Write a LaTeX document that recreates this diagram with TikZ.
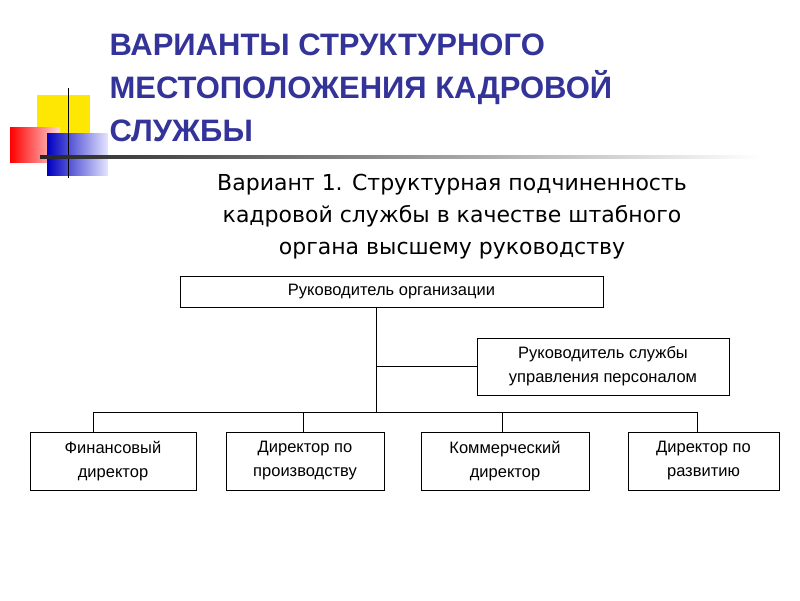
\documentclass[tikz,border=0pt]{standalone}
\usepackage{fontspec}
\setmainfont{Liberation Sans}
\newfontfamily\subfont{DejaVu Sans}
\usetikzlibrary{positioning}
\definecolor{titleblue}{RGB}{51,51,153}
\tikzset{
	every node/.style = {font=\fontsize{16.5}{24}\selectfont},
	unit/.style = {draw, thick, minimum height=58pt, align=center, inner sep=2pt},
	link/.style = {-, thick, black}
}
\begin{document}
\begin{tikzpicture}[x=1pt,y=-1pt]
		\useasboundingbox (0,0) rectangle (800,600);
		% logo
		\fill[yellow!90!orange] (37,95) rectangle (90,140);
		\shade[left color=red, right color=red!15] (10,127) rectangle (60,162);
		\shade[left color=blue!75!black, right color=blue!10] (47,133) rectangle (108,175);
		\draw[thick] (68,88) -- (68,178);
		\shade[left color=black!85, right color=white] (40,155.5) rectangle (760,158.5);
		% title
		\node[anchor=west, text=titleblue, align=left, font=\bfseries\fontsize{31}{43}\selectfont] (title) at (106,88)
			{ВАРИАНТЫ СТРУКТУРНОГО\\МЕСТОПОЛОЖЕНИЯ КАДРОВОЙ\\СЛУЖБЫ};
		\node[align=center, font=\subfont\fontsize{22}{32}\selectfont] (sub) at (452,217)
			{Вариант 1. Структурная подчиненность\\кадровой службы в качестве штабного\\органа высшему руководству};
		% boxes
		\node[unit, minimum width=423pt, minimum height=31pt] (head) at (391.5,291.5) {Руководитель организации};
		\node[unit, minimum width=252pt, minimum height=57pt] (hr) at (603,366.5) {Руководитель службы\\управления персоналом};
		\node[unit, minimum width=166pt] (fin) at (113,461) {Финансовый\\директор};
		\node[unit, minimum width=158pt] (prod) at (305,461) {Директор по\\производству};
		\node[unit, minimum width=168pt] (com) at (505,461) {Коммерческий\\директор};
		\node[unit, minimum width=151pt] (dev) at (703.5,461) {Директор по\\развитию};
		% connectors
		\coordinate (bus) at (376,412);
		\draw[link] (head.south -| bus) -- (bus);
		\draw[link] (376,366.5) -- (hr.west);
		\draw[link] (93,412) -- (697,412);
		\foreach \n/\x in {fin/93, prod/303, com/502, dev/697}
			\draw[link] (\x,412) -- (\x,0 |- \n.north);
	\end{tikzpicture}
\end{document}
